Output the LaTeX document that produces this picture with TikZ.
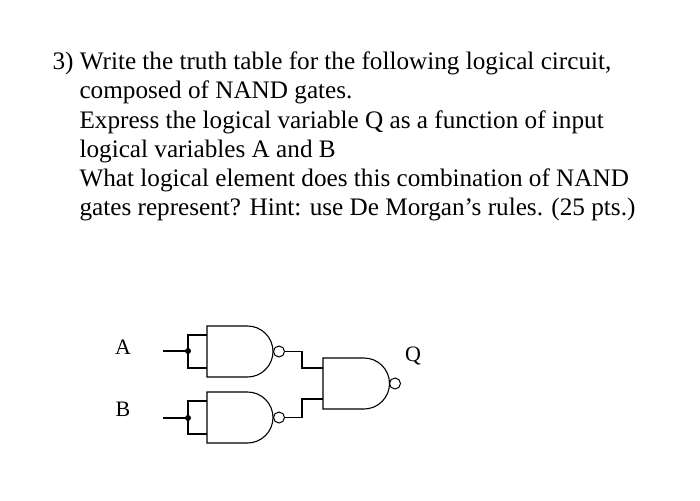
\documentclass[tikz,border=0pt]{standalone}
\usepackage{fontspec}
\setmainfont{Liberation Serif}
\begin{document}
\begin{tikzpicture}[x=1pt,y=-1pt,line width=1.1pt,
  txt/.style={anchor=base west,inner sep=0pt,font=\fontsize{25.2}{30}\selectfont},
  lbl/.style={inner sep=0pt,font=\fontsize{22}{26}\selectfont},
  bub/.style={draw,circle,inner sep=0pt,minimum size=11pt,line width=1pt}]
\useasboundingbox (0,0) rectangle (700,500);
\node[txt] (l1) at (52,70) {3) Write the truth table for the following logical circuit,};
\node[txt] (l2) at (79,99) {composed of NAND gates.};
\node[txt] (l3) at (79,128) {Express the logical variable Q as a function of input};
\node[txt] (l4) at (79,157) {logical variables A and B};
\node[txt] (l5) at (79,186) {What logical element does this combination of NAND};
\node[txt] (l6) at (79,215) {gates represent? Hint: use De Morgan’s rules. (25 pts.)};
\node[lbl] (A) at (123,347) {A};
\node[lbl] (B) at (123,409) {B};
\node[lbl] (Q) at (413,356) {Q};
% gates
\def\gate#1#2#3#4{% left, top, bottom, flat
 \draw (#1,#2) -- (#4,#2) .. controls ({#4+14},#2) and ({#4+25.5},{#2+11.4}) .. ({#4+25.5},{(#2+#3)/2})
   .. controls ({#4+25.5},{#3-11.4}) and ({#4+14},#3) .. (#4,#3) -- (#1,#3) -- cycle;}
\gate{207}{326}{377}{247.5}
\gate{207}{392}{443}{247.5}
\gate{323}{358}{409}{364}
\node[bub] (b1) at (279,351.5) {};
\node[bub] (b2) at (279,417.5) {};
\node[bub] (b3) at (395,383.5) {};
\coordinate (ja) at (188,351);
\coordinate (jb) at (188,418);
\coordinate (ia) at (163,351);
\coordinate (ib) at (163,418);
\draw (ia) -- (ja); \fill (ja) circle (3pt);
\draw (207,335) -| (ja) |- (207,368);
\draw (ib) -- (jb); \fill (jb) circle (3pt);
\draw (207,401) -| (jb) |- (207,434);
\draw (b1.east) -- (302,351.5) |- (323,368);
\draw (b2.east) -- (302,417.5) |- (323,399);
\end{tikzpicture}
\end{document}
